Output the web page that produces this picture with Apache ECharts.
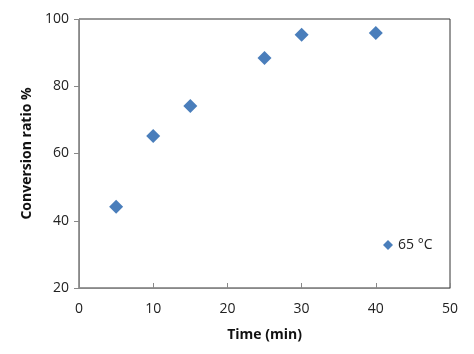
<!DOCTYPE html>
<html>
<head>
<meta charset="utf-8">
<script src="https://cdn.jsdelivr.net/npm/echarts@6/dist/echarts.min.js"></script>
<style>
  html, body { margin: 0; padding: 0; background: #fff; }
  #chart { width: 474px; height: 354px; }
</style>
</head>
<body>
<div id="chart"></div>
<script>
// data
var timeMin = [5, 10, 15, 25, 30, 40];
var conversion = [44.2, 65.2, 74.1, 88.4, 95.3, 95.8];
var seriesName = '65 °C';

var points = [];
for (var i = 0; i < timeMin.length; i++) {
  points.push([timeMin[i], conversion[i]]);
}

var font = '"Open Sans", "Liberation Sans", sans-serif';

var myChart = echarts.init(document.getElementById('chart'));
var option = {
  backgroundColor: '#ffffff',
  animation: false,
  textStyle: { fontFamily: font },
  grid: {
    left: 79, right: 24, top: 19, bottom: 66,
    show: true,
    borderColor: '#333333',
    borderWidth: 1
  },
  legend: {
    left: 378, top: 233,
    icon: 'diamond',
    itemWidth: 10, itemHeight: 10,
    itemGap: 4,
    data: [seriesName],
    textStyle: { fontFamily: font, fontSize: 14, color: '#222' }
  },
  xAxis: {
    type: 'value',
    min: 0, max: 50, interval: 10,
    name: 'Time (min)',
    nameLocation: 'middle',
    nameGap: 40,
    nameTextStyle: { fontFamily: font, fontSize: 14, fontWeight: 'bold', color: '#111' },
    axisLine: { show: true, lineStyle: { color: '#888888' } },
    axisTick: { show: true, inside: true, length: 5, lineStyle: { color: '#888888' } },
    axisLabel: { fontSize: 14, color: '#222', margin: 14 },
    splitLine: { show: false }
  },
  yAxis: {
    type: 'value',
    min: 20, max: 100, interval: 20,
    name: 'Conversion ratio %',
    nameLocation: 'middle',
    nameGap: 44,
    nameTextStyle: { fontFamily: font, fontSize: 14, fontWeight: 'bold', color: '#111' },
    axisLine: { show: true, lineStyle: { color: '#888888' } },
    axisTick: { show: true, inside: false, length: 5, lineStyle: { color: '#888888' } },
    axisLabel: { fontSize: 14, color: '#222', margin: 10 },
    splitLine: { show: false }
  },
  series: [{
    name: seriesName,
    type: 'scatter',
    symbol: 'diamond',
    symbolSize: 14,
    itemStyle: { color: '#4a7ebb', opacity: 1 },
    data: points
  }]
};
myChart.setOption(option);
</script>
</body>
</html>
